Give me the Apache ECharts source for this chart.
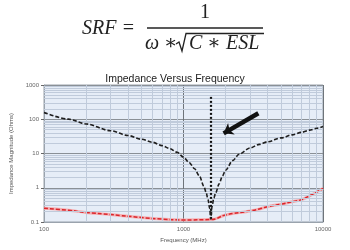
<!DOCTYPE html>
<html>
<head>
<meta charset="utf-8">
<script src="https://cdn.jsdelivr.net/npm/echarts@6/dist/echarts.min.js"></script>
<style>html,body{margin:0;padding:0;background:#fff}#c{width:350px;height:250px}</style>
</head>
<body>
<div id="c"></div>
<script>
// Frequencies (MHz) and impedance magnitudes (Ohms)
var freqZ = [100,150,200,300,400,500,600,700,800,900,1000,1100,1200,1300,1400,1450,1500,1540,1570,1600,1650,1700,1800,1900,2000,2250,2500,3000,3500,4000,5000,6000,7000,8000,9000,10000];
var impedance = [158,100.7,73,46.3,33.6,26.1,21.3,17,13.8,10.8,7.8,5.4,3.6,2.2,1.1,0.75,0.45,0.25,0.12,0.28,0.5,0.7,1.3,2.2,3.2,6.2,9.5,14.5,18.5,22,28.5,35,41.5,48,54.5,61];
var freqR = [100,150,200,300,500,700,1000,1570,2000,3000,3500,4000,5000,6000,7000,8000,9000,10000];
var esr = [0.25,0.22,0.19,0.165,0.135,0.122,0.115,0.118,0.16,0.21,0.24,0.28,0.33,0.39,0.45,0.58,0.75,0.95];
var yTicks = [0.1,1,10,100,1000];
var xTicks = [100,1000,10000];
var srfFreq = 1570;
var srfLine = [450, 0.12];
var arrowFrom = [3440, 150];
var arrowTo = [1940, 38.7];
var minorX = [200,300,400,500,600,700,800,900,2000,3000,4000,5000,6000,7000,8000,9000];
var minorY = [];
[0.1,1,10,100].forEach(function(d){for(var k=2;k<=9;k++){minorY.push(+(d*k).toPrecision(3));}});

function pairs(xs, ys){return xs.map(function(x,i){return [x, ys[i]];});}

var chart = echarts.init(document.getElementById('c'), null, {renderer:'canvas'});
var fml = 'italic 20px "Liberation Serif", "DejaVu Serif", serif';
chart.setOption({
  animation:false,
  title:{text:'Impedance Versus Frequency', left:'center', top:69,
    textStyle:{fontFamily:'Liberation Sans, Arial, sans-serif', fontSize:10.5, fontWeight:'normal', color:'#222'}},
  grid:{left:42, right:27, top:85, bottom:28, show:true, backgroundColor:'#e6edf7', borderColor:'#9aa3ad', borderWidth:1},
  graphic:[
    {type:'text', left:82, top:19, style:{text:'SRF =', font:fml, fill:'#222'}},
    {type:'text', left:200, top:3, style:{text:'1', font:'20px "Liberation Serif", serif', fill:'#222'}},
    {type:'line', shape:{x1:147, y1:28, x2:263, y2:28}, style:{stroke:'#222', lineWidth:1.3}},
    {type:'text', left:145, top:34, style:{text:'ω ∗', font:fml, fill:'#222'}},
    {type:'polyline', shape:{points:[[176,44],[179,42],[182,51],[186,33.5],[264,33.5]]}, style:{stroke:'#222', lineWidth:1.3, fill:null}},
    {type:'text', left:189, top:34, style:{text:'C ∗ ESL', font:fml, fill:'#222'}}
  ],
  xAxis:{type:'log', logBase:10, min:100, max:10000,
    name:'Frequency (MHz)', nameLocation:'middle', nameGap:10,
    nameTextStyle:{fontSize:6, color:'#555', fontFamily:'Liberation Sans, Arial, sans-serif'},
    axisLine:{show:true, lineStyle:{color:'#9aa3ad'}},
    axisTick:{show:false},
    axisLabel:{fontSize:6, color:'#666', margin:4, formatter:function(v){return xTicks.indexOf(v)>=0?String(v):'';}},
    splitLine:{show:true, lineStyle:{color:'#6e747a', width:1}}},
  yAxis:{type:'log', logBase:10, min:0.1, max:1000,
    name:'Impedance Magnitude (Ohms)', nameLocation:'middle', nameGap:30,
    nameTextStyle:{fontSize:6, color:'#555', fontFamily:'Liberation Sans, Arial, sans-serif'},
    axisLine:{show:true, lineStyle:{color:'#9aa3ad'}},
    axisTick:{show:true, length:3, lineStyle:{color:'#666'}},
    axisLabel:{fontSize:6, color:'#666', margin:5, formatter:function(v){
      for(var i=0;i<yTicks.length;i++){if(Math.abs(v-yTicks[i])<1e-9*yTicks[i])return String(yTicks[i]);} return '';}},
    splitLine:{show:true, lineStyle:{color:'#8a9096', width:1}}},
  series:[
    {type:'line', data:[], z:1, silent:true,
      markLine:{silent:true, symbol:'none', label:{show:false}, animation:false,
        lineStyle:{type:'solid', color:'#c0cbdb', width:1},
        data: minorX.map(function(v){return {xAxis:v};}).concat(minorY.map(function(v){return {yAxis:v};}))}},
    {type:'line', data:pairs(freqR, esr), z:3, showSymbol:false, smooth:true, silent:true,
      lineStyle:{color:'#f5b0b3', width:3, type:'solid'}},
    {type:'line', data:pairs(freqR, esr), z:4, showSymbol:false, smooth:true, silent:true,
      lineStyle:{color:'#d9262c', width:1.5, type:[4,2]}},
    {type:'line', data:pairs(freqZ, impedance), z:5, showSymbol:false, smooth:0.3, smoothMonotone:'x', silent:true,
      lineStyle:{color:'#1e1e1e', width:1.6, type:[4,2]},
      markLine:{silent:true, symbol:'none', label:{show:false}, animation:false,
        data:[
          [{coord:[srfFreq, srfLine[0]], lineStyle:{color:'#111', width:2.2, type:[2,2]}},
           {coord:[srfFreq, srfLine[1]]}],
          [{coord:arrowFrom, symbol:'none', lineStyle:{color:'#111', width:4.5, type:'solid'}},
           {coord:arrowTo, symbol:'arrow', symbolSize:[10,9]}]
        ]}}
  ]
});
</script>
</body>
</html>
